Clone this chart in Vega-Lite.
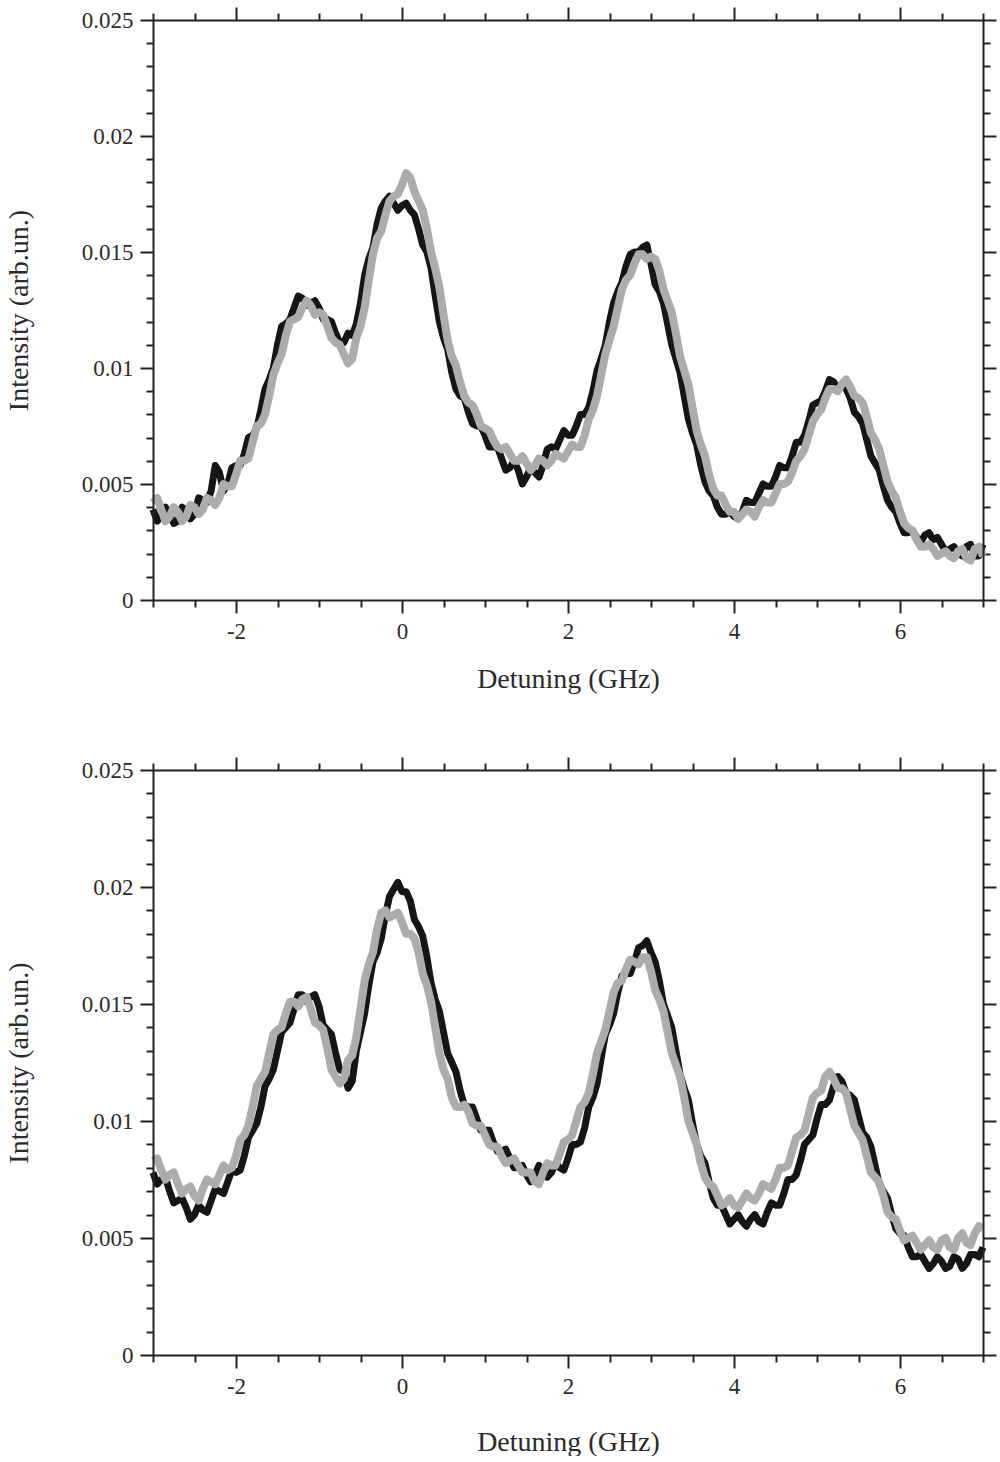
{
  "$schema": "https://vega.github.io/schema/vega-lite/v6.json",
  "description": "Two stacked spectra: intensity vs detuning, black and gray traces.",
  "padding": {"left": 5, "top": 6, "right": 0, "bottom": 0},
  "spacing": 170,
  "bounds": "flush",
  "datasets": {
    "top": [
      {"x": -3.0, "g": 0.0042, "b": 0.0039}, {"x": -2.9, "g": 0.0039, "b": 0.0036},
      {"x": -2.8, "g": 0.0036, "b": 0.0037}, {"x": -2.7, "g": 0.0038, "b": 0.0034},
      {"x": -2.6, "g": 0.0036, "b": 0.0039}, {"x": -2.5, "g": 0.0040, "b": 0.0037},
      {"x": -2.4, "g": 0.0039, "b": 0.0043}, {"x": -2.3, "g": 0.0043, "b": 0.0047},
      {"x": -2.2, "g": 0.0044, "b": 0.0055}, {"x": -2.1, "g": 0.0049, "b": 0.0050},
      {"x": -2.0, "g": 0.0054, "b": 0.0058}, {"x": -1.9, "g": 0.0060, "b": 0.0063},
      {"x": -1.8, "g": 0.0068, "b": 0.0071}, {"x": -1.7, "g": 0.0076, "b": 0.0082},
      {"x": -1.6, "g": 0.0088, "b": 0.0095}, {"x": -1.5, "g": 0.0102, "b": 0.0110},
      {"x": -1.4, "g": 0.0114, "b": 0.0119}, {"x": -1.3, "g": 0.0121, "b": 0.0126},
      {"x": -1.2, "g": 0.0126, "b": 0.0130}, {"x": -1.1, "g": 0.0127, "b": 0.0128},
      {"x": -1.0, "g": 0.0124, "b": 0.0126}, {"x": -0.9, "g": 0.0118, "b": 0.0121},
      {"x": -0.8, "g": 0.0111, "b": 0.0115}, {"x": -0.7, "g": 0.0106, "b": 0.0111},
      {"x": -0.6, "g": 0.0104, "b": 0.0114}, {"x": -0.5, "g": 0.0118, "b": 0.0128},
      {"x": -0.4, "g": 0.0138, "b": 0.0147}, {"x": -0.3, "g": 0.0156, "b": 0.0162},
      {"x": -0.2, "g": 0.0166, "b": 0.0172}, {"x": -0.1, "g": 0.0174, "b": 0.0171},
      {"x": 0.0, "g": 0.0179, "b": 0.0170}, {"x": 0.1, "g": 0.0182, "b": 0.0168},
      {"x": 0.2, "g": 0.0172, "b": 0.0160}, {"x": 0.3, "g": 0.0160, "b": 0.0150},
      {"x": 0.4, "g": 0.0143, "b": 0.0131}, {"x": 0.5, "g": 0.0123, "b": 0.0113},
      {"x": 0.6, "g": 0.0105, "b": 0.0098}, {"x": 0.7, "g": 0.0094, "b": 0.0088},
      {"x": 0.8, "g": 0.0085, "b": 0.0081}, {"x": 0.9, "g": 0.0080, "b": 0.0075},
      {"x": 1.0, "g": 0.0074, "b": 0.0071}, {"x": 1.1, "g": 0.0069, "b": 0.0066},
      {"x": 1.2, "g": 0.0065, "b": 0.0061}, {"x": 1.3, "g": 0.0063, "b": 0.0057},
      {"x": 1.4, "g": 0.0060, "b": 0.0056}, {"x": 1.5, "g": 0.0059, "b": 0.0053},
      {"x": 1.6, "g": 0.0058, "b": 0.0055}, {"x": 1.7, "g": 0.0060, "b": 0.0058},
      {"x": 1.8, "g": 0.0060, "b": 0.0066}, {"x": 1.9, "g": 0.0062, "b": 0.0069},
      {"x": 2.0, "g": 0.0064, "b": 0.0071}, {"x": 2.1, "g": 0.0066, "b": 0.0075},
      {"x": 2.2, "g": 0.0071, "b": 0.0080}, {"x": 2.3, "g": 0.0082, "b": 0.0090},
      {"x": 2.4, "g": 0.0097, "b": 0.0104}, {"x": 2.5, "g": 0.0112, "b": 0.0120},
      {"x": 2.6, "g": 0.0126, "b": 0.0133}, {"x": 2.7, "g": 0.0138, "b": 0.0144},
      {"x": 2.8, "g": 0.0145, "b": 0.0150}, {"x": 2.9, "g": 0.0149, "b": 0.0152},
      {"x": 3.0, "g": 0.0148, "b": 0.0145}, {"x": 3.1, "g": 0.0142, "b": 0.0133},
      {"x": 3.2, "g": 0.0129, "b": 0.0119}, {"x": 3.3, "g": 0.0115, "b": 0.0104},
      {"x": 3.4, "g": 0.0099, "b": 0.0088}, {"x": 3.5, "g": 0.0083, "b": 0.0072},
      {"x": 3.6, "g": 0.0067, "b": 0.0058}, {"x": 3.7, "g": 0.0054, "b": 0.0047},
      {"x": 3.8, "g": 0.0045, "b": 0.0040}, {"x": 3.9, "g": 0.0041, "b": 0.0037},
      {"x": 4.0, "g": 0.0038, "b": 0.0036}, {"x": 4.1, "g": 0.0037, "b": 0.0038},
      {"x": 4.2, "g": 0.0038, "b": 0.0042}, {"x": 4.3, "g": 0.0040, "b": 0.0046},
      {"x": 4.4, "g": 0.0042, "b": 0.0049}, {"x": 4.5, "g": 0.0046, "b": 0.0053},
      {"x": 4.6, "g": 0.0050, "b": 0.0057}, {"x": 4.7, "g": 0.0055, "b": 0.0062},
      {"x": 4.8, "g": 0.0062, "b": 0.0068}, {"x": 4.9, "g": 0.0071, "b": 0.0077},
      {"x": 5.0, "g": 0.0080, "b": 0.0085}, {"x": 5.1, "g": 0.0087, "b": 0.0090},
      {"x": 5.2, "g": 0.0091, "b": 0.0094}, {"x": 5.3, "g": 0.0093, "b": 0.0092},
      {"x": 5.4, "g": 0.0092, "b": 0.0087}, {"x": 5.5, "g": 0.0087, "b": 0.0079},
      {"x": 5.6, "g": 0.0079, "b": 0.0069}, {"x": 5.7, "g": 0.0069, "b": 0.0059},
      {"x": 5.8, "g": 0.0058, "b": 0.0049}, {"x": 5.9, "g": 0.0047, "b": 0.0040},
      {"x": 6.0, "g": 0.0038, "b": 0.0033}, {"x": 6.1, "g": 0.0031, "b": 0.0029},
      {"x": 6.2, "g": 0.0026, "b": 0.0027}, {"x": 6.3, "g": 0.0023, "b": 0.0028},
      {"x": 6.4, "g": 0.0022, "b": 0.0026}, {"x": 6.5, "g": 0.0020, "b": 0.0024},
      {"x": 6.6, "g": 0.0019, "b": 0.0022}, {"x": 6.7, "g": 0.0021, "b": 0.0020},
      {"x": 6.8, "g": 0.0018, "b": 0.0023}, {"x": 6.9, "g": 0.0022, "b": 0.0019},
      {"x": 7.0, "g": 0.0019, "b": 0.0024},
      {"x": -2.95, "g": 0.0044, "b": 0.0034}, {"x": -2.85, "g": 0.0034, "b": 0.0040},
      {"x": -2.75, "g": 0.0040, "b": 0.0033}, {"x": -2.65, "g": 0.0034, "b": 0.0040},
      {"x": -2.55, "g": 0.0041, "b": 0.0035}, {"x": -2.45, "g": 0.0037, "b": 0.0044},
      {"x": -2.35, "g": 0.0044, "b": 0.0042}, {"x": -2.25, "g": 0.0041, "b": 0.0058},
      {"x": -2.15, "g": 0.0050, "b": 0.0047}, {"x": -2.05, "g": 0.0049, "b": 0.0057},
      {"x": -1.95, "g": 0.0060, "b": 0.0058}, {"x": -1.85, "g": 0.0061, "b": 0.0070},
      {"x": -1.75, "g": 0.0075, "b": 0.0074}, {"x": -1.65, "g": 0.0080, "b": 0.0091},
      {"x": -1.55, "g": 0.0097, "b": 0.0100}, {"x": -1.45, "g": 0.0106, "b": 0.0118},
      {"x": -1.35, "g": 0.0120, "b": 0.0121}, {"x": -1.25, "g": 0.0122, "b": 0.0131},
      {"x": -1.15, "g": 0.0129, "b": 0.0127}, {"x": -1.05, "g": 0.0123, "b": 0.0129},
      {"x": -0.95, "g": 0.0123, "b": 0.0121}, {"x": -0.85, "g": 0.0113, "b": 0.0120},
      {"x": -0.75, "g": 0.0110, "b": 0.0111}, {"x": -0.65, "g": 0.0102, "b": 0.0115},
      {"x": -0.55, "g": 0.0113, "b": 0.0119}, {"x": -0.45, "g": 0.0126, "b": 0.0140},
      {"x": -0.35, "g": 0.0149, "b": 0.0152}, {"x": -0.25, "g": 0.0159, "b": 0.0169},
      {"x": -0.15, "g": 0.0172, "b": 0.0174}, {"x": -0.05, "g": 0.0175, "b": 0.0168},
      {"x": 0.05, "g": 0.0184, "b": 0.0171}, {"x": 0.15, "g": 0.0176, "b": 0.0166},
      {"x": 0.25, "g": 0.0168, "b": 0.0153}, {"x": 0.35, "g": 0.0150, "b": 0.0143},
      {"x": 0.45, "g": 0.0135, "b": 0.0120}, {"x": 0.55, "g": 0.0112, "b": 0.0108},
      {"x": 0.65, "g": 0.0101, "b": 0.0091}, {"x": 0.75, "g": 0.0088, "b": 0.0087},
      {"x": 0.85, "g": 0.0084, "b": 0.0076}, {"x": 0.95, "g": 0.0075, "b": 0.0075},
      {"x": 1.05, "g": 0.0073, "b": 0.0066}, {"x": 1.15, "g": 0.0066, "b": 0.0066},
      {"x": 1.25, "g": 0.0066, "b": 0.0056}, {"x": 1.35, "g": 0.0060, "b": 0.0060},
      {"x": 1.45, "g": 0.0062, "b": 0.0050}, {"x": 1.55, "g": 0.0056, "b": 0.0057},
      {"x": 1.65, "g": 0.0061, "b": 0.0053}, {"x": 1.75, "g": 0.0058, "b": 0.0065},
      {"x": 1.85, "g": 0.0063, "b": 0.0065}, {"x": 1.95, "g": 0.0061, "b": 0.0073},
      {"x": 2.05, "g": 0.0067, "b": 0.0071}, {"x": 2.15, "g": 0.0066, "b": 0.0080},
      {"x": 2.25, "g": 0.0078, "b": 0.0083}, {"x": 2.35, "g": 0.0088, "b": 0.0099},
      {"x": 2.45, "g": 0.0106, "b": 0.0110}, {"x": 2.55, "g": 0.0118, "b": 0.0128},
      {"x": 2.65, "g": 0.0134, "b": 0.0137}, {"x": 2.75, "g": 0.0140, "b": 0.0149},
      {"x": 2.85, "g": 0.0149, "b": 0.0150}, {"x": 2.95, "g": 0.0147, "b": 0.0153},
      {"x": 3.05, "g": 0.0147, "b": 0.0136}, {"x": 3.15, "g": 0.0134, "b": 0.0128},
      {"x": 3.25, "g": 0.0124, "b": 0.0110}, {"x": 3.35, "g": 0.0105, "b": 0.0098},
      {"x": 3.45, "g": 0.0093, "b": 0.0078}, {"x": 3.55, "g": 0.0073, "b": 0.0067},
      {"x": 3.65, "g": 0.0062, "b": 0.0051}, {"x": 3.75, "g": 0.0048, "b": 0.0045},
      {"x": 3.85, "g": 0.0045, "b": 0.0037}, {"x": 3.95, "g": 0.0038, "b": 0.0038},
      {"x": 4.05, "g": 0.0035, "b": 0.0035}, {"x": 4.15, "g": 0.0039, "b": 0.0043},
      {"x": 4.25, "g": 0.0036, "b": 0.0042}, {"x": 4.35, "g": 0.0043, "b": 0.0050},
      {"x": 4.45, "g": 0.0042, "b": 0.0049}, {"x": 4.55, "g": 0.0050, "b": 0.0058},
      {"x": 4.65, "g": 0.0051, "b": 0.0057}, {"x": 4.75, "g": 0.0060, "b": 0.0068},
      {"x": 4.85, "g": 0.0065, "b": 0.0071}, {"x": 4.95, "g": 0.0077, "b": 0.0084},
      {"x": 5.05, "g": 0.0082, "b": 0.0086}, {"x": 5.15, "g": 0.0091, "b": 0.0095},
      {"x": 5.25, "g": 0.0090, "b": 0.0091}, {"x": 5.35, "g": 0.0095, "b": 0.0091},
      {"x": 5.45, "g": 0.0088, "b": 0.0081}, {"x": 5.55, "g": 0.0085, "b": 0.0076},
      {"x": 5.65, "g": 0.0072, "b": 0.0062}, {"x": 5.75, "g": 0.0065, "b": 0.0056},
      {"x": 5.85, "g": 0.0051, "b": 0.0043}, {"x": 5.95, "g": 0.0044, "b": 0.0038},
      {"x": 6.05, "g": 0.0033, "b": 0.0029}, {"x": 6.15, "g": 0.0030, "b": 0.0030},
      {"x": 6.25, "g": 0.0023, "b": 0.0025}, {"x": 6.35, "g": 0.0024, "b": 0.0029},
      {"x": 6.45, "g": 0.0019, "b": 0.0027}, {"x": 6.55, "g": 0.0021, "b": 0.0021},
      {"x": 6.65, "g": 0.0018, "b": 0.0023}, {"x": 6.75, "g": 0.0022, "b": 0.0019},
      {"x": 6.85, "g": 0.0017, "b": 0.0024}, {"x": 6.95, "g": 0.0023, "b": 0.0019}
    ],
    "bottom": [
      {"x": -3.0, "g": 0.0083, "b": 0.0078}, {"x": -2.9, "g": 0.0079, "b": 0.0075},
      {"x": -2.8, "g": 0.0077, "b": 0.0070}, {"x": -2.7, "g": 0.0073, "b": 0.0066},
      {"x": -2.6, "g": 0.0071, "b": 0.0063}, {"x": -2.5, "g": 0.0068, "b": 0.0060},
      {"x": -2.4, "g": 0.0071, "b": 0.0062}, {"x": -2.3, "g": 0.0074, "b": 0.0066},
      {"x": -2.2, "g": 0.0077, "b": 0.0070}, {"x": -2.1, "g": 0.0079, "b": 0.0074},
      {"x": -2.0, "g": 0.0085, "b": 0.0078}, {"x": -1.9, "g": 0.0094, "b": 0.0085},
      {"x": -1.8, "g": 0.0106, "b": 0.0096}, {"x": -1.7, "g": 0.0118, "b": 0.0106},
      {"x": -1.6, "g": 0.0129, "b": 0.0118}, {"x": -1.5, "g": 0.0139, "b": 0.0130},
      {"x": -1.4, "g": 0.0146, "b": 0.0140}, {"x": -1.3, "g": 0.0151, "b": 0.0148},
      {"x": -1.2, "g": 0.0152, "b": 0.0154}, {"x": -1.1, "g": 0.0148, "b": 0.0153},
      {"x": -1.0, "g": 0.0141, "b": 0.0149}, {"x": -0.9, "g": 0.0131, "b": 0.0139},
      {"x": -0.8, "g": 0.0119, "b": 0.0129}, {"x": -0.7, "g": 0.0118, "b": 0.0121},
      {"x": -0.6, "g": 0.0128, "b": 0.0117}, {"x": -0.5, "g": 0.0148, "b": 0.0138},
      {"x": -0.4, "g": 0.0167, "b": 0.0158}, {"x": -0.3, "g": 0.0182, "b": 0.0172},
      {"x": -0.2, "g": 0.0190, "b": 0.0188}, {"x": -0.1, "g": 0.0188, "b": 0.0199},
      {"x": 0.0, "g": 0.0185, "b": 0.0198}, {"x": 0.1, "g": 0.0180, "b": 0.0194},
      {"x": 0.2, "g": 0.0172, "b": 0.0183}, {"x": 0.3, "g": 0.0158, "b": 0.0170},
      {"x": 0.4, "g": 0.0140, "b": 0.0152}, {"x": 0.5, "g": 0.0122, "b": 0.0138},
      {"x": 0.6, "g": 0.0110, "b": 0.0125}, {"x": 0.7, "g": 0.0106, "b": 0.0113},
      {"x": 0.8, "g": 0.0104, "b": 0.0106}, {"x": 0.9, "g": 0.0098, "b": 0.0101},
      {"x": 1.0, "g": 0.0094, "b": 0.0096}, {"x": 1.1, "g": 0.0089, "b": 0.0091},
      {"x": 1.2, "g": 0.0085, "b": 0.0087}, {"x": 1.3, "g": 0.0083, "b": 0.0084},
      {"x": 1.4, "g": 0.0081, "b": 0.0080}, {"x": 1.5, "g": 0.0078, "b": 0.0077},
      {"x": 1.6, "g": 0.0074, "b": 0.0077}, {"x": 1.7, "g": 0.0078, "b": 0.0079},
      {"x": 1.8, "g": 0.0081, "b": 0.0078}, {"x": 1.9, "g": 0.0086, "b": 0.0080},
      {"x": 2.0, "g": 0.0092, "b": 0.0084}, {"x": 2.1, "g": 0.0100, "b": 0.0090},
      {"x": 2.2, "g": 0.0108, "b": 0.0097}, {"x": 2.3, "g": 0.0120, "b": 0.0110},
      {"x": 2.4, "g": 0.0134, "b": 0.0127}, {"x": 2.5, "g": 0.0147, "b": 0.0141},
      {"x": 2.6, "g": 0.0159, "b": 0.0155}, {"x": 2.7, "g": 0.0165, "b": 0.0163},
      {"x": 2.8, "g": 0.0168, "b": 0.0168}, {"x": 2.9, "g": 0.0170, "b": 0.0175},
      {"x": 3.0, "g": 0.0164, "b": 0.0172}, {"x": 3.1, "g": 0.0152, "b": 0.0160},
      {"x": 3.2, "g": 0.0138, "b": 0.0145}, {"x": 3.3, "g": 0.0124, "b": 0.0130},
      {"x": 3.4, "g": 0.0110, "b": 0.0114}, {"x": 3.5, "g": 0.0095, "b": 0.0099},
      {"x": 3.6, "g": 0.0082, "b": 0.0085}, {"x": 3.7, "g": 0.0073, "b": 0.0074},
      {"x": 3.8, "g": 0.0068, "b": 0.0064}, {"x": 3.9, "g": 0.0065, "b": 0.0060},
      {"x": 4.0, "g": 0.0064, "b": 0.0058}, {"x": 4.1, "g": 0.0066, "b": 0.0057},
      {"x": 4.2, "g": 0.0067, "b": 0.0058}, {"x": 4.3, "g": 0.0069, "b": 0.0057},
      {"x": 4.4, "g": 0.0072, "b": 0.0061}, {"x": 4.5, "g": 0.0075, "b": 0.0064},
      {"x": 4.6, "g": 0.0080, "b": 0.0069}, {"x": 4.7, "g": 0.0087, "b": 0.0075},
      {"x": 4.8, "g": 0.0094, "b": 0.0083}, {"x": 4.9, "g": 0.0103, "b": 0.0092},
      {"x": 5.0, "g": 0.0112, "b": 0.0101}, {"x": 5.1, "g": 0.0119, "b": 0.0107},
      {"x": 5.2, "g": 0.0118, "b": 0.0115}, {"x": 5.3, "g": 0.0114, "b": 0.0117},
      {"x": 5.4, "g": 0.0105, "b": 0.0111}, {"x": 5.5, "g": 0.0095, "b": 0.0102},
      {"x": 5.6, "g": 0.0085, "b": 0.0093}, {"x": 5.7, "g": 0.0076, "b": 0.0081},
      {"x": 5.8, "g": 0.0068, "b": 0.0070}, {"x": 5.9, "g": 0.0059, "b": 0.0060},
      {"x": 6.0, "g": 0.0053, "b": 0.0052}, {"x": 6.1, "g": 0.0050, "b": 0.0046},
      {"x": 6.2, "g": 0.0048, "b": 0.0042}, {"x": 6.3, "g": 0.0047, "b": 0.0040},
      {"x": 6.4, "g": 0.0046, "b": 0.0039}, {"x": 6.5, "g": 0.0049, "b": 0.0040},
      {"x": 6.6, "g": 0.0046, "b": 0.0038}, {"x": 6.7, "g": 0.0050, "b": 0.0041},
      {"x": 6.8, "g": 0.0048, "b": 0.0039}, {"x": 6.9, "g": 0.0052, "b": 0.0043},
      {"x": 7.0, "g": 0.0054, "b": 0.0046},
      {"x": -2.95, "g": 0.0084, "b": 0.0073}, {"x": -2.85, "g": 0.0075, "b": 0.0076},
      {"x": -2.75, "g": 0.0078, "b": 0.0065}, {"x": -2.65, "g": 0.0069, "b": 0.0067},
      {"x": -2.55, "g": 0.0072, "b": 0.0058}, {"x": -2.45, "g": 0.0066, "b": 0.0064},
      {"x": -2.35, "g": 0.0075, "b": 0.0061}, {"x": -2.25, "g": 0.0073, "b": 0.0071},
      {"x": -2.15, "g": 0.0081, "b": 0.0069}, {"x": -2.05, "g": 0.0080, "b": 0.0079},
      {"x": -1.95, "g": 0.0092, "b": 0.0079}, {"x": -1.85, "g": 0.0098, "b": 0.0093},
      {"x": -1.75, "g": 0.0115, "b": 0.0099}, {"x": -1.65, "g": 0.0121, "b": 0.0115},
      {"x": -1.55, "g": 0.0137, "b": 0.0122}, {"x": -1.45, "g": 0.0140, "b": 0.0138},
      {"x": -1.35, "g": 0.0151, "b": 0.0142}, {"x": -1.25, "g": 0.0149, "b": 0.0154},
      {"x": -1.15, "g": 0.0153, "b": 0.0151}, {"x": -1.05, "g": 0.0142, "b": 0.0154},
      {"x": -0.95, "g": 0.0139, "b": 0.0141}, {"x": -0.85, "g": 0.0122, "b": 0.0137},
      {"x": -0.75, "g": 0.0116, "b": 0.0122}, {"x": -0.65, "g": 0.0126, "b": 0.0114},
      {"x": -0.55, "g": 0.0136, "b": 0.0130}, {"x": -0.45, "g": 0.0160, "b": 0.0146},
      {"x": -0.35, "g": 0.0172, "b": 0.0168}, {"x": -0.25, "g": 0.0189, "b": 0.0178},
      {"x": -0.15, "g": 0.0187, "b": 0.0196}, {"x": -0.05, "g": 0.0189, "b": 0.0202},
      {"x": 0.05, "g": 0.0180, "b": 0.0198}, {"x": 0.15, "g": 0.0178, "b": 0.0186},
      {"x": 0.25, "g": 0.0163, "b": 0.0179}, {"x": 0.35, "g": 0.0151, "b": 0.0159},
      {"x": 0.45, "g": 0.0129, "b": 0.0147}, {"x": 0.55, "g": 0.0118, "b": 0.0129},
      {"x": 0.65, "g": 0.0106, "b": 0.0121}, {"x": 0.75, "g": 0.0107, "b": 0.0107},
      {"x": 0.85, "g": 0.0099, "b": 0.0106}, {"x": 0.95, "g": 0.0098, "b": 0.0096},
      {"x": 1.05, "g": 0.0090, "b": 0.0096}, {"x": 1.15, "g": 0.0089, "b": 0.0087},
      {"x": 1.25, "g": 0.0082, "b": 0.0088}, {"x": 1.35, "g": 0.0084, "b": 0.0080},
      {"x": 1.45, "g": 0.0078, "b": 0.0081}, {"x": 1.55, "g": 0.0078, "b": 0.0074},
      {"x": 1.65, "g": 0.0073, "b": 0.0081}, {"x": 1.75, "g": 0.0082, "b": 0.0076},
      {"x": 1.85, "g": 0.0081, "b": 0.0082}, {"x": 1.95, "g": 0.0091, "b": 0.0079},
      {"x": 2.05, "g": 0.0094, "b": 0.0090}, {"x": 2.15, "g": 0.0106, "b": 0.0091},
      {"x": 2.25, "g": 0.0112, "b": 0.0106}, {"x": 2.35, "g": 0.0129, "b": 0.0116},
      {"x": 2.45, "g": 0.0139, "b": 0.0137}, {"x": 2.55, "g": 0.0155, "b": 0.0146},
      {"x": 2.65, "g": 0.0160, "b": 0.0162}, {"x": 2.75, "g": 0.0169, "b": 0.0163},
      {"x": 2.85, "g": 0.0167, "b": 0.0174}, {"x": 2.95, "g": 0.0170, "b": 0.0177},
      {"x": 3.05, "g": 0.0156, "b": 0.0168}, {"x": 3.15, "g": 0.0147, "b": 0.0150},
      {"x": 3.25, "g": 0.0129, "b": 0.0140}, {"x": 3.35, "g": 0.0119, "b": 0.0120},
      {"x": 3.45, "g": 0.0100, "b": 0.0109}, {"x": 3.55, "g": 0.0090, "b": 0.0090},
      {"x": 3.65, "g": 0.0076, "b": 0.0082}, {"x": 3.75, "g": 0.0072, "b": 0.0067},
      {"x": 3.85, "g": 0.0064, "b": 0.0064}, {"x": 3.95, "g": 0.0067, "b": 0.0056},
      {"x": 4.05, "g": 0.0063, "b": 0.0060}, {"x": 4.15, "g": 0.0069, "b": 0.0055},
      {"x": 4.25, "g": 0.0066, "b": 0.0060}, {"x": 4.35, "g": 0.0073, "b": 0.0056},
      {"x": 4.45, "g": 0.0071, "b": 0.0065}, {"x": 4.55, "g": 0.0080, "b": 0.0064},
      {"x": 4.65, "g": 0.0081, "b": 0.0075}, {"x": 4.75, "g": 0.0093, "b": 0.0077},
      {"x": 4.85, "g": 0.0096, "b": 0.0090}, {"x": 4.95, "g": 0.0110, "b": 0.0094},
      {"x": 5.05, "g": 0.0113, "b": 0.0107}, {"x": 5.15, "g": 0.0121, "b": 0.0109},
      {"x": 5.25, "g": 0.0114, "b": 0.0119}, {"x": 5.35, "g": 0.0112, "b": 0.0112},
      {"x": 5.45, "g": 0.0098, "b": 0.0109}, {"x": 5.55, "g": 0.0092, "b": 0.0095},
      {"x": 5.65, "g": 0.0078, "b": 0.0089}, {"x": 5.75, "g": 0.0074, "b": 0.0073},
      {"x": 5.85, "g": 0.0061, "b": 0.0067}, {"x": 5.95, "g": 0.0058, "b": 0.0054},
      {"x": 6.05, "g": 0.0049, "b": 0.0051}, {"x": 6.15, "g": 0.0051, "b": 0.0042},
      {"x": 6.25, "g": 0.0045, "b": 0.0043}, {"x": 6.35, "g": 0.0049, "b": 0.0037},
      {"x": 6.45, "g": 0.0045, "b": 0.0042}, {"x": 6.55, "g": 0.0050, "b": 0.0037},
      {"x": 6.65, "g": 0.0045, "b": 0.0042}, {"x": 6.75, "g": 0.0052, "b": 0.0037},
      {"x": 6.85, "g": 0.0047, "b": 0.0043}, {"x": 6.95, "g": 0.0055, "b": 0.0042}
    ]
  },
  "vconcat": [
    {
      "data": {"name": "top"},
      "transform": [{"fold": ["b", "g"], "as": ["s", "v"]}],
      "width": 830,
      "height": 580,
      "resolve": {
        "scale": {"x": "independent", "y": "independent"},
        "axis": {"x": "independent", "y": "independent"}
      },
      "layer": [
        {
          "transform": [{"filter": "datum.s === 'b'"}],
          "mark": {"type": "line", "color": "#151515", "strokeWidth": 7, "strokeJoin": "round"},
          "encoding": {
            "x": {"field": "x", "type": "quantitative", "scale": {"domain": [-3, 7], "nice": false, "zero": false},
              "axis": {"orient": "bottom", "values": [-2, 0, 2, 4, 6], "tickSize": 13, "labelExpr": "'' + datum.value", "title": "Detuning (GHz)", "titleBaseline": "middle", "titleY": 79, "zindex": 1}},
            "y": {"field": "v", "type": "quantitative", "scale": {"domain": [0, 0.025], "nice": false},
              "axis": {"orient": "left", "values": [0, 0.005, 0.01, 0.015, 0.02, 0.025], "tickSize": 13, "labelExpr": "'' + datum.value", "title": "Intensity (arb.un.)", "titleBaseline": "middle", "titleX": -134, "zindex": 1}}
          }
        },
        {
          "transform": [{"filter": "datum.s === 'g'"}],
          "mark": {"type": "line", "color": "#acacac", "strokeWidth": 8, "strokeJoin": "round"},
          "encoding": {
            "x": {"field": "x", "type": "quantitative", "scale": {"domain": [-3, 7], "nice": false, "zero": false},
              "axis": {"orient": "bottom", "values": [-3, -2.5, -1.5, -1, -0.5, 0.5, 1, 1.5, 2.5, 3, 3.5, 4.5, 5, 5.5, 6.5, 7], "tickSize": 7, "labels": false, "domain": false, "title": null}},
            "y": {"field": "v", "type": "quantitative", "scale": {"domain": [0, 0.025], "nice": false},
              "axis": {"orient": "left", "values": [0.001, 0.002, 0.003, 0.004, 0.006, 0.007, 0.008, 0.009, 0.011, 0.012, 0.013, 0.014, 0.016, 0.017, 0.018, 0.019, 0.021, 0.022, 0.023, 0.024], "tickSize": 7, "labels": false, "domain": false, "title": null}}
          }
        },
        {
          "transform": [{"filter": "datum.s === 'b'"}],
          "mark": {"type": "line", "opacity": 0},
          "encoding": {
            "x": {"field": "x", "type": "quantitative", "scale": {"domain": [-3, 7], "nice": false, "zero": false},
              "axis": {"orient": "top", "values": [-2, 0, 2, 4, 6], "tickSize": 13, "labels": false, "title": null, "zindex": 1}},
            "y": {"field": "v", "type": "quantitative", "scale": {"domain": [0, 0.025], "nice": false},
              "axis": {"orient": "right", "values": [0, 0.005, 0.01, 0.015, 0.02, 0.025], "tickSize": 13, "labels": false, "title": null, "zindex": 1}}
          }
        },
        {
          "transform": [{"filter": "datum.s === 'b'"}],
          "mark": {"type": "line", "opacity": 0},
          "encoding": {
            "x": {"field": "x", "type": "quantitative", "scale": {"domain": [-3, 7], "nice": false, "zero": false},
              "axis": {"orient": "top", "values": [-3, -2.5, -1.5, -1, -0.5, 0.5, 1, 1.5, 2.5, 3, 3.5, 4.5, 5, 5.5, 6.5, 7], "tickSize": 7, "labels": false, "domain": false, "title": null}},
            "y": {"field": "v", "type": "quantitative", "scale": {"domain": [0, 0.025], "nice": false},
              "axis": {"orient": "right", "values": [0.001, 0.002, 0.003, 0.004, 0.006, 0.007, 0.008, 0.009, 0.011, 0.012, 0.013, 0.014, 0.016, 0.017, 0.018, 0.019, 0.021, 0.022, 0.023, 0.024], "tickSize": 7, "labels": false, "domain": false, "title": null}}
          }
        }
      ]
    },
    {
      "data": {"name": "bottom"},
      "transform": [{"fold": ["b", "g"], "as": ["s", "v"]}],
      "width": 830,
      "height": 585,
      "resolve": {
        "scale": {"x": "independent", "y": "independent"},
        "axis": {"x": "independent", "y": "independent"}
      },
      "layer": [
        {
          "transform": [{"filter": "datum.s === 'b'"}],
          "mark": {"type": "line", "color": "#151515", "strokeWidth": 7, "strokeJoin": "round"},
          "encoding": {
            "x": {"field": "x", "type": "quantitative", "scale": {"domain": [-3, 7], "nice": false, "zero": false},
              "axis": {"orient": "bottom", "values": [-2, 0, 2, 4, 6], "tickSize": 13, "labelExpr": "'' + datum.value", "title": "Detuning (GHz)", "titleBaseline": "middle", "titleY": 87, "zindex": 1}},
            "y": {"field": "v", "type": "quantitative", "scale": {"domain": [0, 0.025], "nice": false},
              "axis": {"orient": "left", "values": [0, 0.005, 0.01, 0.015, 0.02, 0.025], "tickSize": 13, "labelExpr": "'' + datum.value", "title": "Intensity (arb.un.)", "titleBaseline": "middle", "titleX": -134, "zindex": 1}}
          }
        },
        {
          "transform": [{"filter": "datum.s === 'g'"}],
          "mark": {"type": "line", "color": "#acacac", "strokeWidth": 8, "strokeJoin": "round"},
          "encoding": {
            "x": {"field": "x", "type": "quantitative", "scale": {"domain": [-3, 7], "nice": false, "zero": false},
              "axis": {"orient": "bottom", "values": [-3, -2.5, -1.5, -1, -0.5, 0.5, 1, 1.5, 2.5, 3, 3.5, 4.5, 5, 5.5, 6.5, 7], "tickSize": 7, "labels": false, "domain": false, "title": null}},
            "y": {"field": "v", "type": "quantitative", "scale": {"domain": [0, 0.025], "nice": false},
              "axis": {"orient": "left", "values": [0.001, 0.002, 0.003, 0.004, 0.006, 0.007, 0.008, 0.009, 0.011, 0.012, 0.013, 0.014, 0.016, 0.017, 0.018, 0.019, 0.021, 0.022, 0.023, 0.024], "tickSize": 7, "labels": false, "domain": false, "title": null}}
          }
        },
        {
          "transform": [{"filter": "datum.s === 'b'"}],
          "mark": {"type": "line", "opacity": 0},
          "encoding": {
            "x": {"field": "x", "type": "quantitative", "scale": {"domain": [-3, 7], "nice": false, "zero": false},
              "axis": {"orient": "top", "values": [-2, 0, 2, 4, 6], "tickSize": 13, "labels": false, "title": null, "zindex": 1}},
            "y": {"field": "v", "type": "quantitative", "scale": {"domain": [0, 0.025], "nice": false},
              "axis": {"orient": "right", "values": [0, 0.005, 0.01, 0.015, 0.02, 0.025], "tickSize": 13, "labels": false, "title": null, "zindex": 1}}
          }
        },
        {
          "transform": [{"filter": "datum.s === 'b'"}],
          "mark": {"type": "line", "opacity": 0},
          "encoding": {
            "x": {"field": "x", "type": "quantitative", "scale": {"domain": [-3, 7], "nice": false, "zero": false},
              "axis": {"orient": "top", "values": [-3, -2.5, -1.5, -1, -0.5, 0.5, 1, 1.5, 2.5, 3, 3.5, 4.5, 5, 5.5, 6.5, 7], "tickSize": 7, "labels": false, "domain": false, "title": null}},
            "y": {"field": "v", "type": "quantitative", "scale": {"domain": [0, 0.025], "nice": false},
              "axis": {"orient": "right", "values": [0.001, 0.002, 0.003, 0.004, 0.006, 0.007, 0.008, 0.009, 0.011, 0.012, 0.013, 0.014, 0.016, 0.017, 0.018, 0.019, 0.021, 0.022, 0.023, 0.024], "tickSize": 7, "labels": false, "domain": false, "title": null}}
          }
        }
      ]
    }
  ],
  "config": {
    "font": "Liberation Serif",
    "view": {"stroke": null},
    "axis": {
      "grid": false,
      "domainColor": "#222222",
      "domainWidth": 2,
      "tickColor": "#222222",
      "tickWidth": 2,
      "labelFont": "Liberation Serif",
      "labelFontSize": 23,
      "labelColor": "#2b2b2b",
      "labelPadding": 7,
      "titleFont": "Liberation Serif",
      "titleFontSize": 28,
      "titleFontWeight": "normal",
      "titleColor": "#2b2b2b"
    }
  }
}
